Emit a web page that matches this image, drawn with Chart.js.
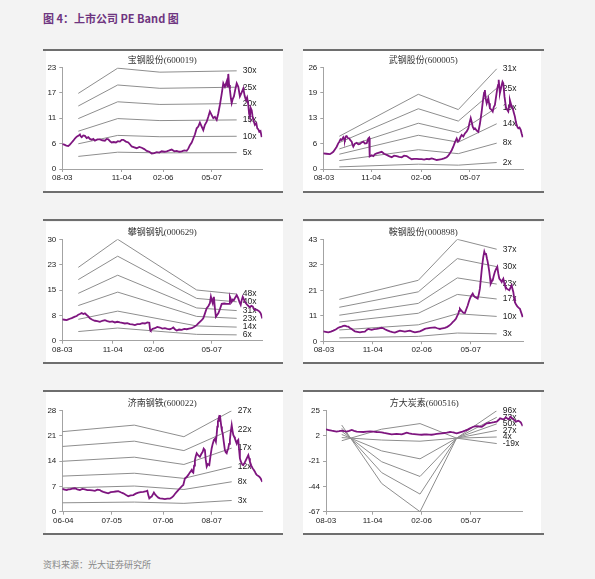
<!DOCTYPE html>
<html>
<head>
<meta charset="utf-8">
<script src="https://cdn.jsdelivr.net/npm/chart.js@4.4.1/dist/chart.umd.min.js"></script>
<style>
  body { margin: 0; width: 595px; height: 579px; background: #f3f3f3; position: relative; overflow: hidden; font-family: "Noto Sans CJK SC", sans-serif; }
  .head { position: absolute; left: 43px; top: 10px; font-size: 11px; line-height: 16px; color: #6e3580; font-weight: bold; }
  .foot { position: absolute; left: 43px; top: 558px; font-size: 9px; line-height: 14px; color: #888; }
  .rule { position: absolute; height: 2px; background: #6e6e6e; }
  .box { position: absolute; background: #fff; }
  .box canvas { position: absolute; left: 0; top: 0; }
</style>
</head>
<body>
<div class="head">图 4：上市公司 PE Band 图</div>
<div class="foot">资料来源：光大证券研究所</div>
<div id="page"></div>
<script>
// x values are a time index 0..100 across each panel's date range

// 宝钢股份
const p1Name = '宝钢股份(600019)';
const p1YLabels = ['0', '6', '11', '17', '23'];
const p1XPos = [0, 29.7, 50.5, 74.7];
const p1XLabels = ['08-03', '11-04', '02-06', '05-07'];
const p1EpsT = [8, 27.7, 48.8, 87.2];
const p1Eps = [0.57, 0.76, 0.73, 0.74];
const p1Multiples = [5, 10, 15, 20, 25, 30];
const p1Price = [[0,5.6],[1,5.5],[2,5.3],[3,5.2],[3.8,5.5],[4.7,6.0],[5.5,6.4],[6.3,6.9],[7.2,7.3],[8,7.5],[8.8,7.8],[9.2,7.4],[9.7,7.2],[10.5,7.6],[11.3,7.5],[12.2,7.0],[13,7.2],[13.8,6.8],[14.7,6.6],[15.5,6.8],[16.3,6.4],[17.5,6.7],[18.8,6.7],[20,6.5],[21.3,6.4],[22.2,6.8],[23,6.7],[24,6.2],[24.7,6.0],[25.7,6.1],[26.8,6.0],[27.8,6.3],[28.8,6.2],[29.7,6.6],[30.5,6.6],[31.8,6.2],[33,6.0],[33.8,5.6],[34.7,5.1],[36,4.9],[37.2,4.7],[38.5,5.0],[39.7,4.8],[41,4.5],[42.2,4.1],[43.5,3.9],[44.7,3.5],[46,3.6],[47.2,3.8],[48.5,3.7],[49.7,4.0],[51,3.9],[52.2,4.0],[53.5,4.2],[54.7,4.4],[56,4.0],[57.2,4.1],[58.5,3.9],[59.7,4.0],[61,4.2],[62.2,4.1],[63,4.6],[63.8,5.4],[64.7,6.0],[65.5,6.9],[66.3,7.8],[67.2,9.2],[68,9.6],[68.8,10.5],[69.7,9.6],[70.5,8.8],[71.3,10.0],[72.2,10.7],[73,11.8],[73.8,13.0],[74.7,12.2],[75.5,11.5],[76.3,11.8],[77.2,11.1],[78,12.6],[78.8,14.5],[79.7,17.0],[80.5,19.4],[81.3,18.6],[82.2,19.8],[82.6,18.5],[83,21.5],[83.4,19.0],[83.8,17.9],[84.3,16.0],[84.7,14.9],[85.2,15.8],[85.8,16.4],[86.5,18.0],[87.2,19.4],[88,18.6],[88.8,16.4],[89.6,17.2],[90.5,18.2],[91.2,16.5],[91.8,15.6],[92.4,16.2],[93,14.5],[93.4,12.5],[93.8,11.8],[94.2,13.8],[94.7,13.3],[95.1,12.0],[95.5,11.1],[96.3,10.0],[97,10.4],[97.5,9.2],[98,9.0],[98.5,8.4],[99.1,8.6],[99.7,7.2]];

// 武钢股份
const p2Name = '武钢股份(600005)';
const p2YLabels = ['0', '6', '13', '19', '26'];
const p2XPos = [0.3, 24, 49, 73.3];
const p2XLabels = ['08-03', '11-04', '02-06', '05-07'];
const p2EpsT = [8, 47.5, 67.5, 86.7];
const p2Eps = [0.27, 0.616, 0.49, 0.826];
const p2Multiples = [2, 8, 14, 19, 25, 31];
const p2Price = [[0,4.0],[1.5,3.9],[3.3,3.8],[4.2,4.1],[5,4.4],[5.8,5.0],[6.7,5.7],[7.4,6.5],[8,7.0],[8.6,7.6],[9.2,7.4],[10,8.1],[10.4,7.6],[10.8,7.4],[11.2,8.3],[11.7,8.4],[12.3,7.9],[13,7.8],[13.6,7.3],[14.2,7.0],[14.6,6.2],[15,5.7],[15.8,6.5],[16.7,6.7],[17.5,6.3],[18.3,6.4],[19.2,6.8],[20,7.0],[20.8,6.5],[21.7,6.6],[22.1,7.2],[22.5,7.8],[22.9,8.0],[23.1,3.4],[23.3,3.2],[24.2,3.5],[25,3.3],[25.8,3.8],[26.7,4.0],[27.9,4.2],[29.2,4.4],[30.4,3.9],[31.7,3.6],[32.9,3.3],[34.2,3.0],[35.4,3.4],[36.7,3.3],[37.9,3.1],[39.2,3.0],[40.4,3.4],[41.7,3.3],[42.9,2.9],[44.2,2.5],[45.4,2.6],[46.7,2.6],[47.9,2.5],[49.2,2.5],[50.4,2.4],[51.7,2.6],[52.9,2.5],[54.2,2.7],[55.4,2.5],[56.7,2.3],[57.9,2.4],[59.2,2.5],[60.4,2.7],[61.7,3.0],[62.5,3.4],[63.3,4.0],[64.2,4.8],[65,5.7],[65.8,6.8],[66.7,7.8],[67.3,7.0],[68,7.4],[68.6,8.2],[69.2,8.7],[70,8.3],[70.8,9.1],[71.7,9.6],[72.5,10.4],[73.1,11.8],[73.7,13.0],[74.2,12.0],[74.7,10.8],[75.3,10.2],[75.8,10.4],[76.7,9.8],[77.5,9.5],[78.3,11.5],[79.2,14.7],[79.6,16.5],[80,18.1],[80.4,19.5],[80.8,20.2],[81.2,18.0],[81.7,16.8],[82.1,17.5],[82.5,18.1],[82.9,16.8],[83.3,15.5],[84,15.2],[84.7,14.7],[85.2,15.8],[85.8,16.4],[86.4,18.5],[87,20.6],[87.4,21.5],[87.7,22.8],[88,21.0],[88.3,19.4],[88.8,20.5],[89.2,21.5],[89.6,22.3],[90,21.9],[90.6,18.5],[91.3,15.9],[91.9,15.2],[92.5,14.7],[92.9,16.0],[93.3,17.6],[94,16.3],[94.7,15.5],[95.2,14.5],[95.8,13.4],[96.3,12.0],[96.7,11.2],[97.1,10.7],[97.5,10.4],[98.1,10.6],[98.7,10.0],[99.2,9.0],[99.7,8.1]];

// 攀钢钢钒
const p3Name = '攀钢钢钒(000629)';
const p3YLabels = ['0', '8', '15', '23', '30'];
const p3XPos = [0, 25.2, 45.8, 74.7];
const p3XLabels = ['08-03', '11-04', '02-06', '05-07'];
const p3EpsT = [8, 27.7, 67.2, 87.2];
const p3Eps = [0.452, 0.625, 0.3125, 0.2875];
const p3Multiples = [6, 14, 23, 31, 40, 48];
const p3Price = [[0,6.3],[1.1,6.2],[2.2,6.1],[3,6.3],[3.8,6.5],[4.7,6.7],[5.5,6.9],[6.3,7.1],[7.2,7.3],[8,7.7],[8.8,7.9],[9.7,8.2],[10.5,7.9],[11.3,8.1],[12.2,7.6],[13,7.2],[13.8,6.6],[15,6.2],[16.3,5.9],[17.5,5.8],[18.8,5.6],[20,5.9],[21.3,6.1],[22.5,5.8],[23.8,5.6],[25,5.7],[26.3,5.4],[27.5,5.6],[28.8,5.4],[30,5.3],[31.3,5.1],[32.5,5.2],[33.8,4.9],[35,4.8],[36.3,4.6],[37.5,4.9],[38.8,4.9],[40,5.2],[41.3,5.1],[42.5,5.4],[43.5,5.3],[43.9,3.2],[44.2,3.0],[45.2,3.5],[46.3,3.7],[47.5,4.1],[48.8,3.9],[50,3.6],[51.3,3.7],[52.5,3.5],[53.8,3.4],[54.7,3.6],[55.5,3.9],[56.3,3.4],[57.2,3.0],[58.4,3.3],[59.7,3.2],[61,3.5],[62.2,3.4],[63.4,3.6],[64.7,3.7],[66,4.1],[67.2,4.6],[68,5.1],[68.8,5.6],[69.7,6.1],[70.5,6.6],[71.3,8.0],[72.2,9.6],[73,10.2],[73.8,11.1],[74.3,13.0],[74.7,12.0],[75.2,11.1],[75.5,12.5],[75.8,13.0],[76.3,9.6],[76.8,7.1],[77.4,7.6],[78,8.1],[78.8,9.3],[79.7,10.9],[81,11.0],[82.2,10.9],[83.5,10.9],[83.8,13.0],[84.2,12.4],[84.7,11.5],[85.3,12.2],[85.8,12.0],[86.5,12.8],[87.2,13.5],[87.6,13.0],[88,12.5],[88.6,11.4],[89.2,10.6],[89.7,12.0],[90.2,13.0],[90.8,12.2],[91.3,11.5],[91.9,11.0],[92.5,10.6],[93.2,10.2],[93.8,9.9],[94.5,10.3],[95.2,10.1],[95.8,9.5],[96.3,9.1],[97.2,9.2],[98,8.9],[98.6,8.6],[99.2,8.1],[100,6.6]];

// 鞍钢股份
const p4Name = '鞍钢股份(000898)';
const p4YLabels = ['0', '11', '21', '32', '43'];
const p4XPos = [0.3, 24.7, 49.2, 73.7];
const p4XLabels = ['08-03', '11-04', '02-06', '05-07'];
const p4EpsT = [8, 47.5, 67, 86.7];
const p4Eps = [0.478, 0.695, 1.162, 1.049];
const p4Multiples = [3, 10, 17, 23, 30, 37];
const p4Price = [[0,4.2],[1.2,4.0],[2.5,3.8],[3.8,4.1],[5,4.5],[6.2,5.0],[7.5,5.7],[8.3,6.0],[9.2,6.2],[10,6.5],[10.8,6.6],[11.7,6.3],[12.5,6.2],[13.3,5.6],[14.2,5.2],[15,4.6],[15.8,4.2],[17,4.0],[18.3,3.8],[19.5,4.0],[20.8,4.1],[21.7,4.8],[22.5,5.2],[23.3,5.0],[24.2,4.8],[25.4,5.1],[26.7,5.2],[27.9,5.4],[29.2,5.7],[30,5.5],[30.8,5.1],[32,4.6],[33.3,4.2],[34.6,3.9],[35.8,3.7],[37,4.1],[38.3,4.5],[39.5,4.3],[40.8,4.1],[42,4.3],[43.3,4.5],[44.6,4.1],[45.8,3.8],[47,4.0],[48.3,4.2],[49.6,4.7],[50.8,5.2],[52,5.5],[53.3,5.7],[54.6,5.8],[55.8,5.9],[57,5.5],[58.3,5.2],[59.6,5.5],[60.8,5.7],[62,6.1],[63,6.6],[63.8,7.2],[64.7,8.1],[65.5,8.7],[66.3,9.5],[66.9,10.6],[67.5,11.6],[67.9,12.8],[68.3,13.7],[69,13.0],[69.7,12.3],[70.2,12.0],[70.8,11.9],[71.5,13.5],[72.2,15.1],[72.8,16.8],[73.3,18.0],[74,19.2],[74.7,20.1],[75.2,19.2],[75.8,18.7],[76.5,18.4],[77.2,18.0],[77.8,20.0],[78.3,22.2],[78.8,26.5],[79.2,30.0],[79.6,33.0],[80,35.6],[80.5,37.8],[80.9,36.8],[81.3,37.1],[81.8,35.0],[82.2,33.5],[82.6,31.5],[83,29.3],[83.4,26.5],[83.7,24.3],[84.2,25.2],[84.7,25.7],[85.2,27.5],[85.8,29.3],[86.4,30.5],[87,31.4],[87.5,28.5],[88,26.4],[88.6,25.8],[89.2,25.0],[89.6,25.8],[90,26.4],[90.4,24.8],[90.8,23.6],[91.3,22.8],[91.7,22.2],[92.4,21.8],[93,21.5],[93.6,22.6],[94.2,23.6],[94.6,22.0],[95,20.8],[95.4,18.5],[95.8,16.5],[96.4,15.5],[97,14.7],[97.6,14.2],[98.3,13.7],[99,12.0],[99.7,10.2]];

// 济南钢铁
const p5Name = '济南钢铁(600022)';
const p5YLabels = ['0', '7', '14', '21', '28'];
const p5XPos = [0.5, 24.7, 50.5, 74.7];
const p5XLabels = ['06-04', '07-05', '07-06', '08-07'];
const p5EpsT = [0, 36, 60.8, 84.7];
const p5Eps = [0.822, 0.889, 0.770, 1.037];
const p5Multiples = [3, 8, 12, 17, 22, 27];
const p5Price = [[0,6.3],[1.1,6.1],[2.2,6.0],[3,6.2],[3.8,6.2],[5,6.4],[6.3,6.5],[7.5,6.2],[8.8,6.0],[10,6.3],[11.3,6.2],[12.5,6.0],[13.8,6.0],[15,5.9],[16.3,5.8],[17.5,6.1],[18.8,6.0],[19.6,5.7],[20.5,5.5],[21.7,5.3],[23,5.1],[24.2,5.4],[25.5,5.5],[26.7,5.6],[28,5.7],[29.2,5.4],[30.5,5.1],[31.7,4.7],[33,4.3],[34.2,4.5],[35.5,4.6],[36.7,5.0],[38,5.3],[39.2,5.4],[40.5,5.5],[41.5,5.6],[42.5,5.8],[43,4.6],[43.5,3.7],[44.1,4.0],[44.7,4.2],[45.3,4.8],[45.8,5.3],[46.5,4.7],[47.2,4.3],[48,3.9],[48.8,3.7],[50,3.6],[51.3,3.5],[52.5,3.6],[53.8,3.6],[54.7,3.9],[55.5,4.3],[56.3,4.9],[57.2,5.5],[58,6.0],[58.8,6.5],[59.7,7.0],[60.5,7.4],[61.3,9.2],[62.2,9.6],[63,10.2],[63.8,10.9],[64.7,11.6],[65.1,11.0],[65.5,10.8],[65.9,12.8],[66.3,14.3],[66.7,15.3],[67.2,16.2],[68,15.6],[68.8,15.2],[69.5,16.0],[70.2,16.6],[70.7,17.5],[71.3,17.1],[71.7,14.5],[72.2,12.5],[72.8,13.2],[73.5,12.9],[74.1,15.5],[74.7,17.6],[75.2,18.8],[75.8,19.9],[76.3,20.2],[76.8,19.4],[77.2,21.5],[77.5,23.6],[77.8,25.0],[78.2,25.9],[78.5,25.2],[78.8,26.8],[79.2,25.0],[79.5,23.6],[79.8,22.5],[80.2,21.7],[80.7,19.5],[81.3,17.1],[81.7,16.5],[82.2,16.2],[82.6,17.0],[83,17.6],[83.4,18.8],[83.8,19.9],[84.2,22.0],[84.7,24.0],[85.1,22.5],[85.5,21.3],[85.9,20.8],[86.3,20.3],[86.8,19.5],[87.2,18.9],[87.6,19.6],[88,19.9],[88.4,17.2],[88.8,14.8],[89.2,14.0],[89.7,13.4],[90.1,13.0],[90.5,12.9],[91.2,13.6],[91.8,14.3],[92.4,15.0],[93,15.7],[93.4,14.8],[93.8,13.9],[94.5,12.8],[95.2,12.0],[95.7,11.6],[96.3,11.1],[96.8,10.5],[97.2,10.2],[97.8,10.0],[98.5,9.7],[99.2,9.2],[100,8.3]];

// 方大炭素
const p6Name = '方大炭素(600516)';
const p6YLabels = ['-67', '-44', '-21', '2', '25'];
const p6XPos = [0, 23.7, 48.6, 73.6];
const p6XLabels = ['08-03', '11-04', '02-06', '05-07'];
const p6EpsT = [8, 12.5, 28.3, 47.8, 66.4, 86.8];
const p6Eps = [0.124, 0, -0.43, -0.698, 0, 0.26];
const p6Multiples = [-19, 4, 27, 50, 73, 96];
const p6Price = [[0,8.0],[1.4,7.4],[2.9,6.8],[4.1,6.4],[5.4,5.9],[6.7,6.3],[8,6.8],[9.2,6.3],[10.5,5.9],[11.8,6.6],[13.1,7.4],[14.3,6.6],[15.6,5.9],[17.3,5.7],[19,5.6],[20.7,5.9],[22.4,6.2],[24.1,5.9],[25.8,5.6],[27,5.5],[28.3,5.3],[29.5,4.8],[30.8,4.4],[32.1,3.9],[33.4,3.4],[34.6,3.6],[35.9,3.8],[37.2,3.6],[38.5,3.4],[39.7,4.2],[41,5.0],[42.3,4.3],[43.6,3.8],[44.8,3.6],[46.1,3.4],[47.4,3.2],[48.6,3.1],[49.9,3.3],[51.2,3.4],[52.4,3.2],[53.7,3.1],[55,3.5],[56.3,3.8],[57.5,4.1],[58.8,4.4],[60.1,4.7],[61.4,5.0],[62.2,5.3],[63,5.6],[63.9,5.4],[64.7,5.3],[65.6,4.8],[66.4,4.4],[67.3,4.9],[68.1,5.3],[69.4,6.0],[70.7,6.8],[72,7.8],[73.2,8.9],[74.1,9.7],[74.9,10.4],[75.7,10.8],[76.6,11.0],[77.9,10.6],[79.2,10.4],[80.5,12.0],[81.7,13.5],[83,13.8],[84.2,14.1],[85.5,14.5],[86.8,15.0],[87.7,16.5],[88.5,18.0],[89.4,17.5],[90.2,17.1],[90.9,18.0],[91.5,18.9],[92.1,18.0],[92.7,17.1],[93.3,18.2],[93.9,19.5],[94.6,18.3],[95.3,17.1],[96,16.0],[96.6,15.0],[97.2,15.5],[97.8,15.9],[98.4,15.2],[99,14.4],[99.5,12.7],[100,11.0]];

const PRICE_COLOR = '#7e157f';
const BAND_COLOR = '#8e8e8e';
const AXIS_COLOR = '#a3a3a3';
const TICK_FONT = { family: '"Liberation Sans", Arial, sans-serif', size: 8 };

// page layout: white box + plot box in page pixels
const panels = [
  { name: p1Name, price: p1Price, epsT: p1EpsT, eps: p1Eps, mult: p1Multiples, yl: p1YLabels, xp: p1XPos, xl: p1XLabels,
    box: [46, 51, 237, 140], plot: [62.3, 67.3, 262.3, 169] },
  { name: p2Name, price: p2Price, epsT: p2EpsT, eps: p2Eps, mult: p2Multiples, yl: p2YLabels, xp: p2XPos, xl: p2XLabels,
    box: [303, 51, 238, 140], plot: [323.3, 67.3, 523.3, 169] },
  { name: p3Name, price: p3Price, epsT: p3EpsT, eps: p3Eps, mult: p3Multiples, yl: p3YLabels, xp: p3XPos, xl: p3XLabels,
    box: [46, 222, 237, 140], plot: [62.3, 239.3, 262.3, 340.7] },
  { name: p4Name, price: p4Price, epsT: p4EpsT, eps: p4Eps, mult: p4Multiples, yl: p4YLabels, xp: p4XPos, xl: p4XLabels,
    box: [303, 222, 238, 140], plot: [323.3, 239.3, 523.3, 341.3] },
  { name: p5Name, price: p5Price, epsT: p5EpsT, eps: p5Eps, mult: p5Multiples, yl: p5YLabels, xp: p5XPos, xl: p5XLabels,
    box: [46, 392, 237, 141], plot: [62.3, 410.7, 262.3, 511.7] },
  { name: p6Name, price: p6Price, epsT: p6EpsT, eps: p6Eps, mult: p6Multiples, yl: p6YLabels, xp: p6XPos, xl: p6XLabels,
    box: [303, 392, 238, 141], plot: [326, 410.7, 522.7, 511.7] }
];
const rules = [
  [43, 49, 240], [303, 49, 241], [43, 191, 240], [303, 191, 241],
  [43, 219, 240], [303, 219, 241], [43, 362, 240], [303, 362, 241],
  [43, 390, 240], [303, 390, 241], [43, 533, 240], [303, 533, 241]
];

const page = document.getElementById('page');
rules.forEach(r => {
  const d = document.createElement('div');
  d.className = 'rule';
  d.style.left = r[0] + 'px'; d.style.top = r[1] + 'px'; d.style.width = r[2] + 'px';
  page.appendChild(d);
});

// title above the plot and the "Nx" tags at the end of each band
const panelText = {
  id: 'panelText',
  beforeDatasetsDraw(chart) {
    const ctx = chart.ctx, a = chart.chartArea;
    ctx.save();
    ctx.fillStyle = '#333';
    ctx.font = '9px "Liberation Serif", "Noto Sans CJK SC", serif';
    ctx.textAlign = 'center';
    ctx.textBaseline = 'middle';
    ctx.fillText(chart.options.plugins.panelText.title, (a.left + a.right) / 2, a.top - 7);
    ctx.font = '8.5px "Liberation Sans", Arial, sans-serif';
    ctx.fillStyle = '#222';
    ctx.textAlign = 'left';
    chart.data.datasets.forEach((ds, i) => {
      if (!ds.tag) return;
      const pts = chart.getDatasetMeta(i).data;
      const p = pts[pts.length - 1];
      ctx.fillText(ds.tag, p.x + 6, p.y);
    });
    ctx.restore();
  }
};

panels.forEach(p => {
  const [bx, by, bw, bh] = p.box;
  const [pl, pt, pr, pb] = p.plot;
  const div = document.createElement('div');
  div.className = 'box';
  div.style.left = bx + 'px'; div.style.top = by + 'px';
  div.style.width = bw + 'px'; div.style.height = bh + 'px';
  const cv = document.createElement('canvas');
  cv.width = bw; cv.height = bh;
  div.appendChild(cv);
  page.appendChild(div);

  const yMin = Number(p.yl[0]), yMax = Number(p.yl[p.yl.length - 1]);
  const datasets = [{
    data: p.price,
    borderColor: PRICE_COLOR,
    borderWidth: 1.8,
    pointRadius: 0,
    tension: 0,
    order: 0
  }];
  p.mult.forEach(m => {
    datasets.push({
      data: p.epsT.map((t, i) => [t, m * p.eps[i]]),
      borderColor: BAND_COLOR,
      borderWidth: 1,
      pointRadius: 0,
      tension: 0,
      order: 1,
      tag: m + 'x'
    });
  });

  new Chart(cv, {
    type: 'line',
    data: { datasets },
    options: {
      responsive: false,
      animation: false,
      events: [],
      layout: { padding: { left: 0, top: pt - by, right: bx + bw - pr, bottom: 0 } },
      scales: {
        x: {
          type: 'linear', min: 0, max: 100,
          afterBuildTicks: s => { s.ticks = p.xp.map(v => ({ value: v })); },
          afterFit: s => { s.height = by + bh - pb; },
          ticks: { callback: (v, i) => p.xl[i], font: TICK_FONT, color: '#222', padding: 1, maxRotation: 0, autoSkip: false },
          grid: { display: true, drawOnChartArea: false, drawTicks: true, tickLength: 3, color: AXIS_COLOR },
          border: { display: true, color: AXIS_COLOR }
        },
        y: {
          min: yMin, max: yMax,
          afterBuildTicks: s => {
            s.ticks = p.yl.map((l, i) => ({ value: yMin + (yMax - yMin) * i / (p.yl.length - 1) }));
          },
          afterFit: s => { s.width = pl - bx; },
          ticks: { callback: (v, i) => p.yl[i], font: TICK_FONT, color: '#222', padding: 3, autoSkip: false },
          grid: { display: true, drawOnChartArea: false, drawTicks: true, tickLength: 3, color: AXIS_COLOR },
          border: { display: true, color: AXIS_COLOR }
        }
      },
      plugins: {
        legend: { display: false },
        tooltip: { enabled: false },
        panelText: { title: p.name }
      }
    },
    plugins: [panelText]
  });
});
</script>
</body>
</html>
